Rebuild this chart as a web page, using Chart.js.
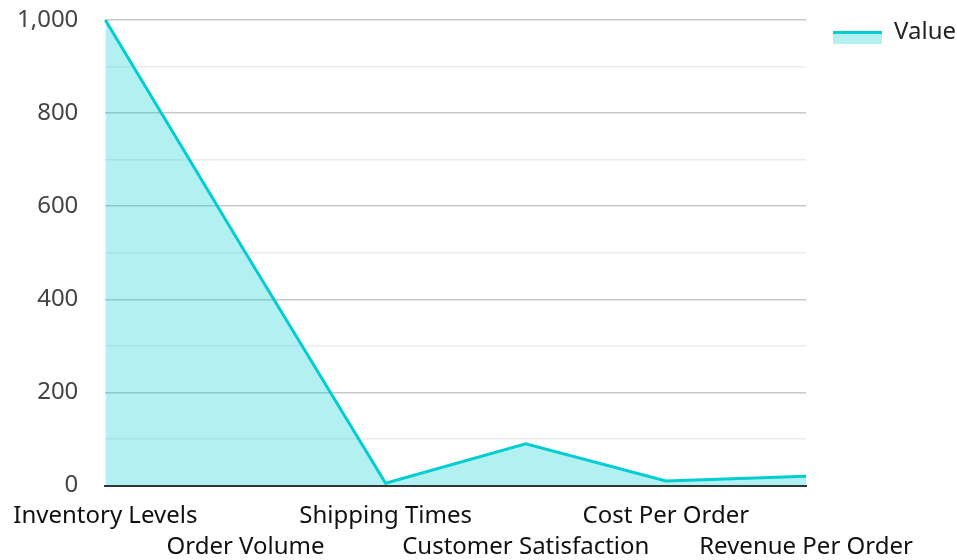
<!DOCTYPE html>
<html lang="en">
<head>
    <meta charset="UTF-8">
    <title>Value</title>
    <script src="https://cdn.jsdelivr.net/npm/chart.js"></script>
    <style>
        html, body { margin: 0; padding: 0; background: #fff; }
        #wrap { width: 957px; height: 560px; }
    </style>
</head>
<body>
    <div id="wrap"><canvas id="valueChart"></canvas></div>
    <script>
        const categories = ['Inventory Levels', 'Order Volume', 'Shipping Times', 'Customer Satisfaction', 'Cost Per Order', 'Revenue Per Order'];
        const values = [1000, 500, 5, 90, 10, 20];
        const seriesName = 'Value';

        const lineColor = '#00CED1';
        const fillColor = 'rgba(0, 206, 209, 0.3)';

        // legend swatch: light fill with a thick top line, sits a bit below the text centre
        const swatch = document.createElement('canvas');
        swatch.width = 49;
        swatch.height = 26;
        const sctx = swatch.getContext('2d');
        sctx.fillStyle = fillColor;
        sctx.fillRect(0, 12, 49, 13);
        sctx.fillStyle = lineColor;
        sctx.fillRect(0, 12, 49, 3);

        // stagger the x labels on two rows
        const xLabels = categories.map((c, i) => i % 2 ? ['', c] : [c, '']);

        const ctx = document.getElementById('valueChart').getContext('2d');
        new Chart(ctx, {
            type: 'line',
            data: {
                labels: xLabels,
                datasets: [{
                    label: seriesName,
                    data: values,
                    borderColor: lineColor,
                    backgroundColor: fillColor,
                    borderWidth: 3,
                    fill: 'origin',
                    tension: 0,
                    pointRadius: 0,
                    pointStyle: swatch
                }]
            },
            options: {
                responsive: true,
                maintainAspectRatio: false,
                animation: false,
                layout: { padding: { left: -10, top: -7, right: -9, bottom: -18 } },
                plugins: {
                    tooltip: { enabled: false },
                    legend: {
                        position: 'right',
                        align: 'start',
                        labels: {
                            usePointStyle: true,
                            pointStyleWidth: 49,
                            boxHeight: 14,
                            color: '#222',
                            font: { family: 'Noto Sans', size: 24 },
                            padding: 27
                        }
                    }
                },
                scales: {
                    x: {
                        offset: false,
                        grid: { display: false, drawTicks: false },
                        border: { display: true, color: '#333', width: 2 },
                        ticks: {
                            autoSkip: false,
                            maxRotation: 0,
                            padding: 15,
                            color: '#111',
                            font: { family: 'Noto Sans', size: 24, lineHeight: 1.3 }
                        },
                        afterFit: s => { s.paddingLeft = 0; s.paddingRight = 0; }
                    },
                    y: {
                        min: 0,
                        max: 1000,
                        border: { display: false },
                        grid: {
                            drawTicks: false,
                            color: c => c.tick.value % 200 === 0 ? '#c8c8c8' : '#ececec',
                            lineWidth: 1.5
                        },
                        ticks: {
                            stepSize: 100,
                            padding: 27,
                            color: '#444',
                            font: { family: 'Noto Sans', size: 24 },
                            callback: v => v % 200 === 0 ? v.toLocaleString('en-US') : ''
                        },
                        afterFit: s => { s.paddingTop = 20; s.paddingBottom = 0; }
                    }
                }
            }
        });
    </script>
</body>
</html>
